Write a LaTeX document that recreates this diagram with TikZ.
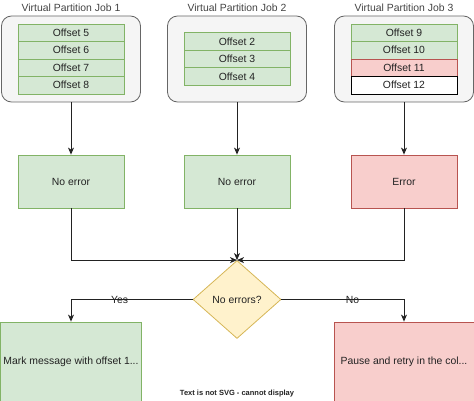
\documentclass[tikz,border=0pt]{standalone}
\usepackage{fontspec}
\setmainfont{Liberation Sans}
\usetikzlibrary{arrows.meta,positioning,shapes.geometric}
\definecolor{okFill}{HTML}{D5E8D4}
\definecolor{okLine}{HTML}{82B366}
\definecolor{errFill}{HTML}{F8CECC}
\definecolor{errLine}{HTML}{B85450}
\definecolor{askFill}{HTML}{FFF2CC}
\definecolor{askLine}{HTML}{D6B656}
\definecolor{jobFill}{HTML}{F5F5F5}
\definecolor{jobLine}{HTML}{666666}
\definecolor{ink}{HTML}{222222}

\begin{document}
\begin{tikzpicture}[
    x=1pt, y=-1pt,
    txt/.style={font=\fontsize{10.4}{12}\selectfont, text=ink},
    job/.style={draw=jobLine, fill=jobFill, rounded corners=10pt, minimum width=139pt, minimum height=86pt, line width=0.8pt},
    title/.style={txt, text=ink!85, inner sep=0pt},
    row/.style={txt, draw=okLine, fill=okFill, minimum width=106pt, minimum height=17.5pt, inner sep=0pt, outer sep=0pt, line width=0.8pt},
    bad/.style={draw=errLine, fill=errFill},
    open/.style={draw=black, fill=white},
    box/.style={txt, draw=okLine, fill=okFill, minimum width=106pt, minimum height=53pt, line width=0.8pt},
    big/.style={txt, draw=okLine, fill=okFill, minimum width=140pt, minimum height=79pt, line width=0.8pt},
    ask/.style={txt, diamond, draw=askLine, fill=askFill, minimum width=88pt, minimum height=78pt, inner sep=0pt, line width=0.8pt},
    arrow/.style={-{Stealth[length=7pt, width=6pt, inset=2pt]}, line width=0.9pt, draw=ink}
  ]
    \useasboundingbox (0,0) rectangle (474,401);

    % job containers
    \node[job] (job1) at (71,59) {};
    \node[job] (job2) at (237,59) {};
    \node[job] (job3) at (404,59) {};
    \node[title, above=4pt of job1] {Virtual Partition Job 1};
    \node[title, above=4pt of job2] {Virtual Partition Job 2};
    \node[title, above=4pt of job3] {Virtual Partition Job 3};

    % offsets
    \node[row] (o5) at (71,32.75) {Offset 5};
    \node[row, below=0pt of o5] (o6) {Offset 6};
    \node[row, below=0pt of o6] (o7) {Offset 7};
    \node[row, below=0pt of o7] (o8) {Offset 8};

    \node[row] (o2) at (237,41.5) {Offset 2};
    \node[row, below=0pt of o2] (o3) {Offset 3};
    \node[row, below=0pt of o3] (o4) {Offset 4};

    \node[row] (o9) at (404,32.75) {Offset 9};
    \node[row, below=0pt of o9] (o10) {Offset 10};
    \node[row, bad, below=0pt of o10] (o11) {Offset 11};
    \node[row, open, below=0pt of o11] (o12) {Offset 12};

    % results
    \node[box] (res1) at (71,181.5) {No error};
    \node[box] (res2) at (237,181.5) {No error};
    \node[box, bad] (res3) at (404,181.5) {Error};

    \node[ask] (check) at (237,299.5) {No errors?};

    \node[big] (mark) at (71,361.5) {Mark message with offset 1...};
    \node[big, bad] (pause) at (404,361.5) {Pause and retry in the col...};

    \node[font=\fontsize{7.5}{9}\selectfont\bfseries, text=ink] (nosvg) at (237,394) {Text is not SVG - cannot display};

    \draw[arrow] (job1) -- (res1);
    \draw[arrow] (job2) -- (res2);
    \draw[arrow] (job3) -- (res3);
    \draw[arrow] (res1) |- (check.north);
    \draw[arrow] (res2) -- (check);
    \draw[arrow] (res3) |- (check.north);
    \draw[arrow] (check) -| node[txt, pos=0.3] {Yes} (mark);
    \draw[arrow] (check) -| node[txt, pos=0.29] {No} (pause);
  \end{tikzpicture}
\end{document}
